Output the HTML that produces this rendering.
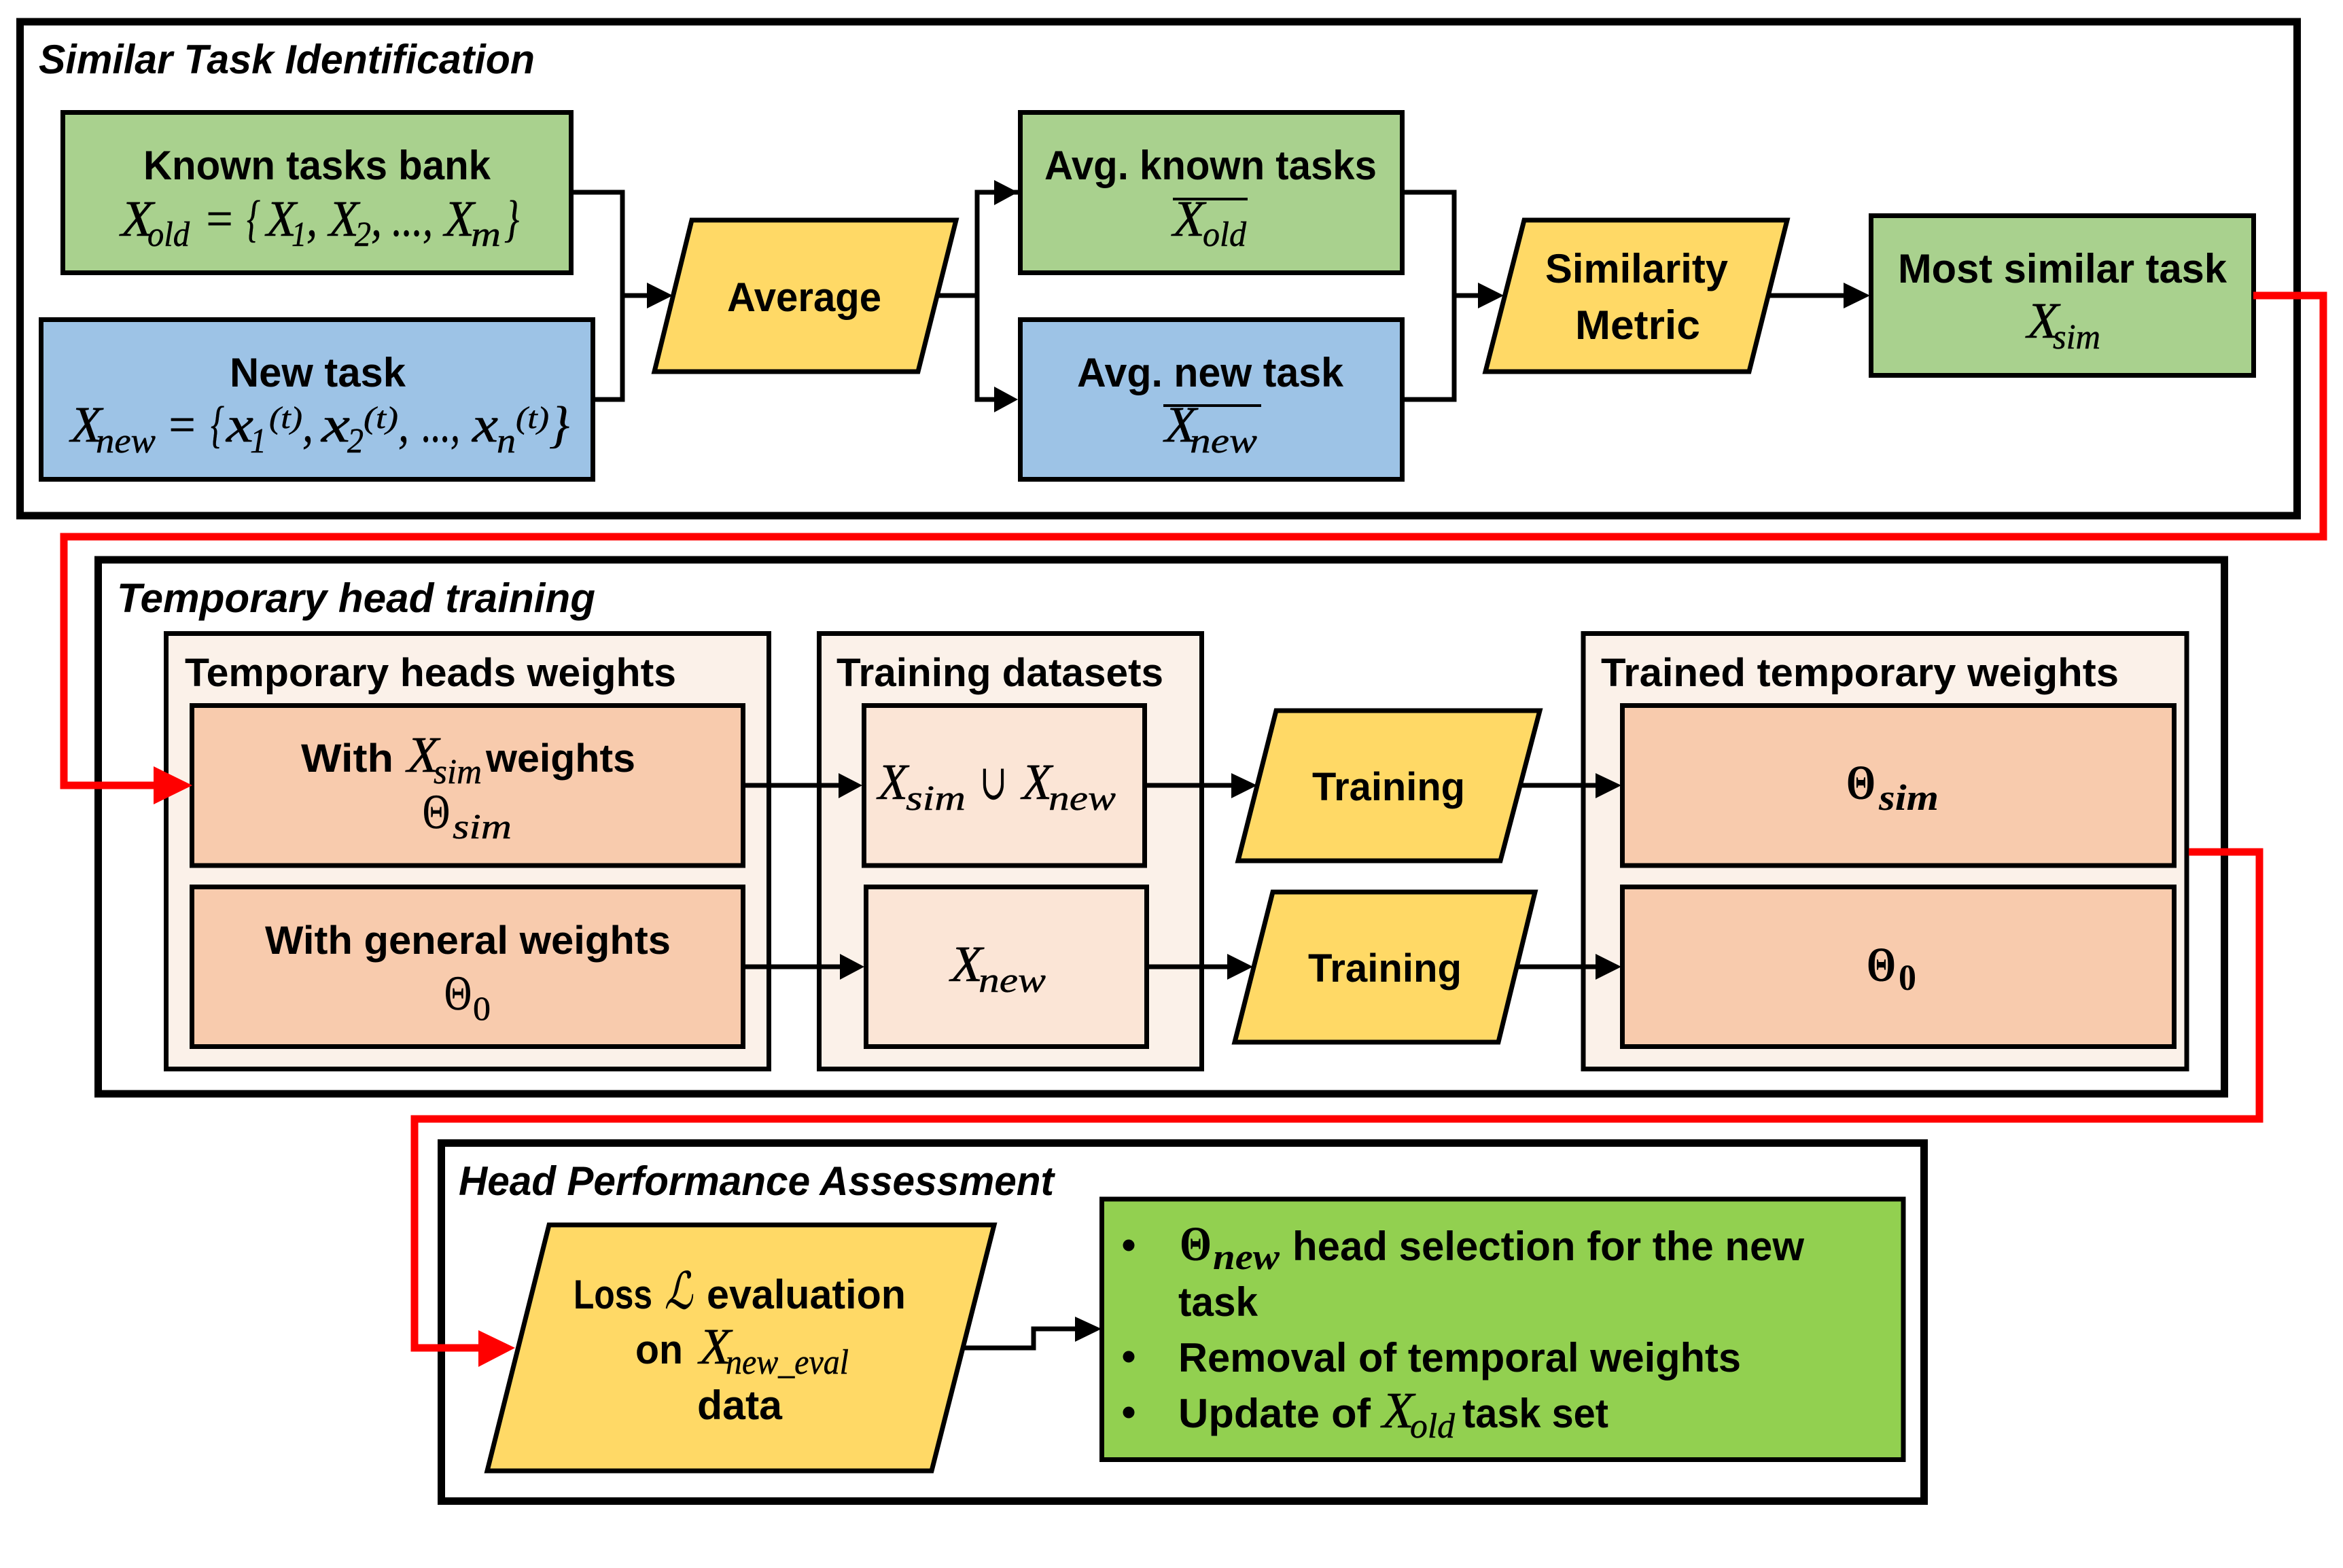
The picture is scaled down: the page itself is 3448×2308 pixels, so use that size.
<!DOCTYPE html>
<html><head><meta charset="utf-8"><style>
html,body{margin:0;padding:0;background:#fff}
svg{display:block}
text{fill:#000;white-space:pre}
.b{font:bold 60px "Liberation Sans",sans-serif}
.p{font:bold 58px "Liberation Sans",sans-serif}
.t{font:italic bold 60px "Liberation Sans",sans-serif}
.m{font:italic 75px "Liberation Serif","DejaVu Serif",serif;stroke:#000;stroke-width:.6}
.s{font:italic 52px "Liberation Serif","DejaVu Serif",serif;stroke:#000;stroke-width:.5}
.u{font:italic 46px "Liberation Serif","DejaVu Serif",serif;stroke:#000;stroke-width:.5}
.th{font:72px "Liberation Serif","DejaVu Serif",serif;stroke:#000;stroke-width:.6}
.n{font:50px "Liberation Serif","DejaVu Serif",serif;stroke:#000;stroke-width:.5}
.mb{font:bold 72px "Liberation Serif","DejaVu Serif",serif}
.sb{font:italic bold 54px "Liberation Serif","DejaVu Serif",serif}
.nb{font:bold 54px "Liberation Serif","DejaVu Serif",serif}
.box{stroke:#000;stroke-width:7}
.ln{fill:none;stroke:#000;stroke-width:7}
.rd{fill:none;stroke:#f00;stroke-width:11}
</style></head><body>
<svg xmlns="http://www.w3.org/2000/svg" width="3448" height="2308" viewBox="0 0 3448 2308">
<rect width="3448" height="2308" fill="#fff"/>

<!-- outer frames -->
<rect x="29.5" y="32" width="3351" height="727" fill="#fff" stroke="#000" stroke-width="11"/>
<rect x="144.5" y="824" width="3129" height="786" fill="#fff" stroke="#000" stroke-width="11"/>
<rect x="649.5" y="1682.5" width="2182" height="527" fill="#fff" stroke="#000" stroke-width="11"/>

<!-- section 1 -->
<text class="t" x="57" y="108" textLength="730" lengthAdjust="spacingAndGlyphs">Similar Task Identification</text>
<path class="ln" d="M844 283H916V588H876"/>
<path class="ln" d="M916 435H960"/><path d="M952 416L990 435L952 454Z"/>
<path class="ln" d="M1350 435H1438M1498 283H1438V588H1470"/>
<path d="M1463 265L1498 283L1463 302Z"/><path d="M1463 569L1498 588L1463 607Z"/>
<path class="ln" d="M2067 283H2140V588H2067M2140 435H2185"/><path d="M2175 416L2213 435L2175 454Z"/>
<path class="ln" d="M2600 435H2720"/><path d="M2713 416L2752 435L2713 454Z"/>

<rect class="box" x="92.5" y="165.5" width="748" height="236" fill="#A9D18E"/>
<rect class="box" x="60.5" y="470.5" width="812" height="235" fill="#9DC3E6"/>
<path class="box" d="M1018 324H1407L1351 547H963Z" fill="#FFD966"/>
<rect class="box" x="1501.5" y="165.5" width="562" height="236" fill="#A9D18E"/>
<rect class="box" x="1501.5" y="470.5" width="562" height="235" fill="#9DC3E6"/>
<path class="box" d="M2243 324H2630L2574 547H2186Z" fill="#FFD966"/>
<rect class="box" x="2753.5" y="317.5" width="563" height="235" fill="#A9D18E"/>

<text class="b" x="211" y="264" textLength="511" lengthAdjust="spacingAndGlyphs">Known tasks bank</text>
<text class="m" x="178" y="347" textLength="48" lengthAdjust="spacingAndGlyphs">X</text>
<text class="s" x="217" y="362" textLength="62" lengthAdjust="spacingAndGlyphs">old</text>
<text class="m" x="299" y="347" textLength="47" lengthAdjust="spacingAndGlyphs">=</text>
<text class="m" x="363" y="347" textLength="20" lengthAdjust="spacingAndGlyphs">{</text>
<text class="m" x="392" y="347" textLength="44" lengthAdjust="spacingAndGlyphs">X</text>
<text class="s" x="429" y="362" textLength="22" lengthAdjust="spacingAndGlyphs">1</text>
<text class="m" x="451" y="347" textLength="16" lengthAdjust="spacingAndGlyphs">,</text>
<text class="m" x="484" y="347" textLength="44" lengthAdjust="spacingAndGlyphs">X</text>
<text class="s" x="522" y="362" textLength="24" lengthAdjust="spacingAndGlyphs">2</text>
<text class="m" x="546" y="347" textLength="16" lengthAdjust="spacingAndGlyphs">,</text>
<text class="m" x="577" y="347" textLength="60" lengthAdjust="spacingAndGlyphs">...,</text>
<text class="m" x="654" y="347" textLength="44" lengthAdjust="spacingAndGlyphs">X</text>
<text class="s" x="693" y="362" textLength="44" lengthAdjust="spacingAndGlyphs">m</text>
<text class="m" x="742" y="347" textLength="22" lengthAdjust="spacingAndGlyphs">}</text>

<text class="b" x="338" y="569" textLength="259" lengthAdjust="spacingAndGlyphs">New task</text>
<text class="m" x="104" y="650" textLength="46" lengthAdjust="spacingAndGlyphs">X</text>
<text class="s" x="141" y="666" textLength="88" lengthAdjust="spacingAndGlyphs">new</text>
<text class="m" x="244" y="650" textLength="47" lengthAdjust="spacingAndGlyphs">=</text>
<text class="m" x="310" y="650" textLength="20" lengthAdjust="spacingAndGlyphs">{</text>
<text class="m" x="333" y="650" textLength="40" lengthAdjust="spacingAndGlyphs">x</text>
<text class="s" x="368" y="666" textLength="24" lengthAdjust="spacingAndGlyphs">1</text>
<text class="u" x="396" y="630" textLength="49" lengthAdjust="spacingAndGlyphs">(t)</text>
<text class="m" x="445" y="650" textLength="16" lengthAdjust="spacingAndGlyphs">,</text>
<text class="m" x="473" y="650" textLength="42" lengthAdjust="spacingAndGlyphs">x</text>
<text class="s" x="511" y="666" textLength="24" lengthAdjust="spacingAndGlyphs">2</text>
<text class="u" x="535" y="630" textLength="51" lengthAdjust="spacingAndGlyphs">(t)</text>
<text class="m" x="586" y="650" textLength="16" lengthAdjust="spacingAndGlyphs">,</text>
<text class="m" x="621" y="650" textLength="56" lengthAdjust="spacingAndGlyphs">...,</text>
<text class="m" x="695" y="650" textLength="38" lengthAdjust="spacingAndGlyphs">x</text>
<text class="s" x="731" y="666" textLength="28" lengthAdjust="spacingAndGlyphs">n</text>
<text class="u" x="759" y="630" textLength="49" lengthAdjust="spacingAndGlyphs">(t)</text>
<text class="m" x="808" y="650" textLength="30" lengthAdjust="spacingAndGlyphs">}</text>

<text class="b" x="1070" y="458" textLength="227" lengthAdjust="spacingAndGlyphs">Average</text>
<text class="b" x="1537" y="264" textLength="489" lengthAdjust="spacingAndGlyphs">Avg. known tasks</text>
<rect x="1726" y="291" width="110" height="4"/>
<text class="m" x="1726" y="347" textLength="47" lengthAdjust="spacingAndGlyphs">X</text>
<text class="s" x="1770" y="362" textLength="64" lengthAdjust="spacingAndGlyphs">old</text>
<text class="b" x="1585" y="569" textLength="392" lengthAdjust="spacingAndGlyphs">Avg. new task</text>
<rect x="1712" y="595" width="144" height="4"/>
<text class="m" x="1714" y="650" textLength="47" lengthAdjust="spacingAndGlyphs">X</text>
<text class="s" x="1751" y="666" textLength="99" lengthAdjust="spacingAndGlyphs">new</text>
<text class="b" x="2274" y="416" textLength="269" lengthAdjust="spacingAndGlyphs">Similarity</text>
<text class="b" x="2318" y="499" textLength="184" lengthAdjust="spacingAndGlyphs">Metric</text>
<text class="b" x="2793" y="416" textLength="484" lengthAdjust="spacingAndGlyphs">Most similar task</text>
<text class="m" x="2983" y="497" textLength="47" lengthAdjust="spacingAndGlyphs">X</text>
<text class="s" x="3021" y="513" textLength="70" lengthAdjust="spacingAndGlyphs">sim</text>

<!-- section 2 -->
<text class="t" x="172" y="901" textLength="704" lengthAdjust="spacingAndGlyphs">Temporary head training</text>
<rect class="box" x="244.5" y="932.5" width="887" height="641" fill="#FBF1E9"/>
<rect class="box" x="1205.5" y="932.5" width="563" height="641" fill="#FBF1E9"/>
<rect class="box" x="2330" y="932.5" width="888" height="641" fill="#FBF1E9"/>
<rect class="box" x="282.5" y="1038.5" width="811" height="235.5" fill="#F8CBAD"/>
<rect class="box" x="282.5" y="1305.5" width="811" height="235" fill="#F8CBAD"/>
<rect class="box" x="1271.5" y="1038.5" width="413" height="235.5" fill="#FBE5D6"/>
<rect class="box" x="1274.5" y="1305.5" width="413" height="235" fill="#FBE5D6"/>
<rect class="box" x="2387.5" y="1038.5" width="812" height="235.5" fill="#F8CBAD"/>
<rect class="box" x="2387.5" y="1305.5" width="812" height="235" fill="#F8CBAD"/>

<path class="ln" d="M1097 1156H1240"/><path d="M1234 1138L1269 1156L1234 1175Z"/>
<path class="ln" d="M1097 1423H1242"/><path d="M1236 1404L1272 1423L1236 1442Z"/>
<path class="ln" d="M1688 1156H1818"/><path d="M1812 1138L1850 1156L1812 1175Z"/>
<path class="ln" d="M1690 1423H1812"/><path d="M1806 1404L1844 1423L1806 1442Z"/>
<path class="ln" d="M2235 1156H2354"/><path d="M2348 1138L2386 1156L2348 1175Z"/>
<path class="ln" d="M2229 1423H2354"/><path d="M2348 1404L2386 1423L2348 1442Z"/>

<path class="box" d="M1878 1046H2266L2208 1267H1822Z" fill="#FFD966"/>
<path class="box" d="M1873 1313H2259L2205 1534H1817Z" fill="#FFD966"/>

<text class="p" x="272" y="1010" textLength="723" lengthAdjust="spacingAndGlyphs">Temporary heads weights</text>
<text class="p" x="1231" y="1010" textLength="481" lengthAdjust="spacingAndGlyphs">Training datasets</text>
<text class="p" x="2356" y="1010" textLength="762" lengthAdjust="spacingAndGlyphs">Trained temporary weights</text>
<text class="p" x="443" y="1136" textLength="136" lengthAdjust="spacingAndGlyphs">With</text>
<text class="m" x="599" y="1136" textLength="47" lengthAdjust="spacingAndGlyphs">X</text>
<text class="s" x="638" y="1153" textLength="71" lengthAdjust="spacingAndGlyphs">sim</text>
<text class="p" x="715" y="1136" textLength="220" lengthAdjust="spacingAndGlyphs">weights</text>
<text class="th" x="622" y="1219" textLength="40" lengthAdjust="spacingAndGlyphs">Θ</text>
<text class="s" x="666" y="1234" textLength="87" lengthAdjust="spacingAndGlyphs">sim</text>
<text class="p" x="390" y="1404" textLength="597" lengthAdjust="spacingAndGlyphs">With general weights</text>
<text class="th" x="654" y="1486" textLength="40" lengthAdjust="spacingAndGlyphs">Θ</text>
<text class="n" x="696" y="1501" textLength="26" lengthAdjust="spacingAndGlyphs">0</text>
<text class="m" x="1292" y="1176" textLength="44" lengthAdjust="spacingAndGlyphs">X</text>
<text class="s" x="1333" y="1192" textLength="88" lengthAdjust="spacingAndGlyphs">sim</text>
<text class="th" x="1442" y="1176" textLength="40" lengthAdjust="spacingAndGlyphs">∪</text>
<text class="m" x="1504" y="1176" textLength="44" lengthAdjust="spacingAndGlyphs">X</text>
<text class="s" x="1543" y="1192" textLength="99" lengthAdjust="spacingAndGlyphs">new</text>
<text class="m" x="1399" y="1444" textLength="47" lengthAdjust="spacingAndGlyphs">X</text>
<text class="s" x="1440" y="1460" textLength="99" lengthAdjust="spacingAndGlyphs">new</text>
<text class="p" x="1931" y="1178" textLength="225" lengthAdjust="spacingAndGlyphs">Training</text>
<text class="p" x="1925" y="1445" textLength="226" lengthAdjust="spacingAndGlyphs">Training</text>
<text class="mb" x="2717" y="1176" textLength="43" lengthAdjust="spacingAndGlyphs">Θ</text>
<text class="sb" x="2765" y="1192" textLength="88" lengthAdjust="spacingAndGlyphs">sim</text>
<text class="mb" x="2747" y="1444" textLength="43" lengthAdjust="spacingAndGlyphs">Θ</text>
<text class="nb" x="2794" y="1457" textLength="26" lengthAdjust="spacingAndGlyphs">0</text>

<!-- section 3 -->
<text class="t" x="675" y="1759" textLength="876" lengthAdjust="spacingAndGlyphs">Head Performance Assessment</text>
<path class="ln" d="M1410 1984H1521V1956H1590"/><path d="M1582 1938L1621 1956L1582 1975Z"/>
<path class="box" d="M808 1803H1463L1371 2165H717Z" fill="#FFD966"/>
<rect class="box" x="1621.5" y="1765" width="1179.5" height="383.5" fill="#92D050"/>
<text class="b" x="844" y="1926" textLength="116" lengthAdjust="spacingAndGlyphs">Loss</text>
<text class="m" x="978" y="1926" textLength="41" lengthAdjust="spacingAndGlyphs">ℒ</text>
<text class="b" x="1040" y="1926" textLength="293" lengthAdjust="spacingAndGlyphs">evaluation</text>
<text class="b" x="935" y="2007" textLength="70" lengthAdjust="spacingAndGlyphs">on</text>
<text class="m" x="1029" y="2007" textLength="47" lengthAdjust="spacingAndGlyphs">X</text>
<text class="s" x="1068" y="2022" textLength="181" lengthAdjust="spacingAndGlyphs">new_eval</text>
<text class="b" x="1026" y="2089" textLength="125" lengthAdjust="spacingAndGlyphs">data</text>
<circle cx="1661" cy="1833" r="8.5"/><circle cx="1661" cy="1997" r="8.5"/><circle cx="1661" cy="2079" r="8.5"/>
<text class="mb" x="1736" y="1855" textLength="47" lengthAdjust="spacingAndGlyphs">Θ</text>
<text class="sb" x="1785" y="1868" textLength="98" lengthAdjust="spacingAndGlyphs">new</text>
<text class="b" x="1902" y="1855" textLength="753" lengthAdjust="spacingAndGlyphs">head selection for the new</text>
<text class="b" x="1734" y="1937" textLength="117" lengthAdjust="spacingAndGlyphs">task</text>
<text class="b" x="1734" y="2019" textLength="828" lengthAdjust="spacingAndGlyphs">Removal of temporal weights</text>
<text class="b" x="1734" y="2101" textLength="283" lengthAdjust="spacingAndGlyphs">Update of</text>
<text class="m" x="2034" y="2101" textLength="47" lengthAdjust="spacingAndGlyphs">X</text>
<text class="s" x="2075" y="2116" textLength="66" lengthAdjust="spacingAndGlyphs">old</text>
<text class="b" x="2152" y="2101" textLength="215" lengthAdjust="spacingAndGlyphs">task set</text>

<!-- red connectors -->
<path class="rd" d="M3316 435H3419V790H94V1156H235"/>
<path d="M226 1128L283 1156L226 1184Z" fill="#f00"/>
<path class="rd" d="M3221 1254H3325V1647H610V1984H712"/>
<path d="M704 1958L758 1984L704 2012Z" fill="#f00"/>
</svg>
</body></html>
